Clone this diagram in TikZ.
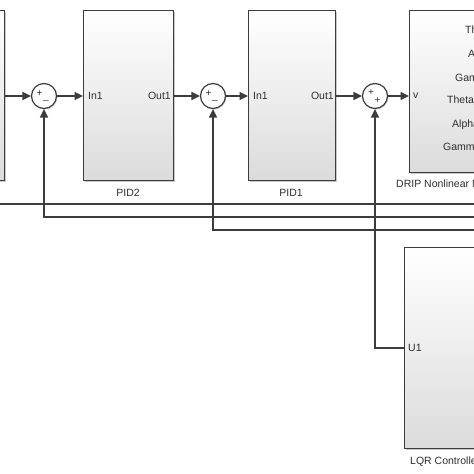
\documentclass[tikz,border=0pt]{standalone}
\usepackage{fontspec}
\setmainfont{Liberation Sans}
\usetikzlibrary{arrows.meta,shadows}
\definecolor{wire}{HTML}{3C3C3C}
\definecolor{txt}{HTML}{2E2E2E}
\tikzset{
  blockbox/.style={draw=wire, line width=1.3pt, inner sep=0pt, anchor=north west,
    top color=white, bottom color=black!14,
    drop shadow={shadow xshift=1.5pt, shadow yshift=-1.5pt, opacity=0.35, fill=black!60}},
  sumnode/.style={circle, draw=wire, line width=1.2pt, fill=white, minimum size=25pt, inner sep=0pt,
    drop shadow={shadow xshift=1pt, shadow yshift=-1pt, opacity=0.3, fill=black!60}},
  wireline/.style={draw=wire, line width=1.3pt},
  arrowline/.style={wireline, -{Triangle[length=8.5pt,width=8pt]}},
  portlabel/.style={font=\fontsize{10.5}{12}\selectfont, text=txt, inner sep=0pt},
  blocklabel/.style={font=\fontsize{10.5}{12}\selectfont, text=txt, inner sep=0pt},
  signlabel/.style={font=\fontsize{10}{10}\selectfont, text=txt, inner sep=0pt}
}
\begin{document}
\begin{tikzpicture}[x=1pt,y=-1pt]
\useasboundingbox (0,0) rectangle (474,474);
\clip (0,0) rectangle (474,474);
\fill[white] (0,0) rectangle (474,474);
% blocks
\node[blockbox, minimum width=30pt, minimum height=170pt] (src) at (-26,10) {};
\node[blockbox, minimum width=90pt, minimum height=170pt] (pid2) at (83,10) {};
\node[blockbox, minimum width=87pt, minimum height=170pt] (pid1) at (248,10) {};
\node[blockbox, minimum width=90pt, minimum height=162pt] (drip) at (409,10) {};
\node[blockbox, minimum width=90pt, minimum height=201pt] (lqr) at (404,247) {};
% labels
\node[blocklabel] (pid2l) at (128,193) {PID2};
\node[blocklabel] (pid1l) at (291,193) {PID1};
\node[blocklabel, anchor=west] (dripl) at (396,184) {DRIP Nonlinear Model};
\node[blocklabel, anchor=west] (lqrl) at (410,462) {LQR Controller};
% port labels
\node[portlabel, anchor=west] (in2) at (88,96) {In1};
\node[portlabel, anchor=east] (out2) at (171,96) {Out1};
\node[portlabel, anchor=west] (in1) at (253,96) {In1};
\node[portlabel, anchor=east] (out1) at (334,96) {Out1};
\node[portlabel, anchor=west] (vin) at (413,96) {v};
\node[portlabel, anchor=west] (u1) at (408,348) {U1};
\node[portlabel, anchor=west] (o1) at (465,30) {Theta};
\node[portlabel, anchor=west] (o2) at (468,55) {Alpha};
\node[portlabel, anchor=west] (o3) at (455,78) {Gamma};
\node[portlabel, anchor=west] (o4) at (447,101) {Theta\_d};
\node[portlabel, anchor=west] (o5) at (452,125) {Alpha\_d};
\node[portlabel, anchor=west] (o6) at (443,148) {Gamma\_d};
% sums
\node[sumnode] (s1) at (44,96) {};
\node[sumnode] (s2) at (213,96) {};
\node[sumnode] (s3) at (375,96) {};
\node[signlabel] (s1a) at (39.5,94) {+};
\node[signlabel] (s1b) at (46,100) {\_};
\node[signlabel] (s2a) at (208.5,94) {+};
\node[signlabel] (s2b) at (215,100) {\_};
\node[signlabel] (s3a) at (371,93) {+};
\node[signlabel] (s3b) at (377.5,101) {+};
% coordinates for free ends
\coordinate (fbA0) at (-2,204);
\coordinate (fbA1) at (476,204);
\coordinate (fbB) at (476,217);
\coordinate (fbC) at (476,230);
% feedback lines
\draw[wireline] (fbA0) -- (fbA1);
\draw[arrowline] (fbB) -| (s1.south);
\draw[arrowline] (fbC) -| (s2.south);
\draw[arrowline] (lqr.west |- 0,348) -| (s3.south);
% forward path
\draw[arrowline] (src.east |- s1) -- (s1.west);
\draw[arrowline] (s1.east) -- (pid2.west |- s1);
\draw[arrowline] (pid2.east |- s2) -- (s2.west);
\draw[arrowline] (s2.east) -- (pid1.west |- s2);
\draw[arrowline] (pid1.east |- s3) -- (s3.west);
\draw[arrowline] (s3.east) -- (drip.west |- s3);
\end{tikzpicture}
\end{document}
